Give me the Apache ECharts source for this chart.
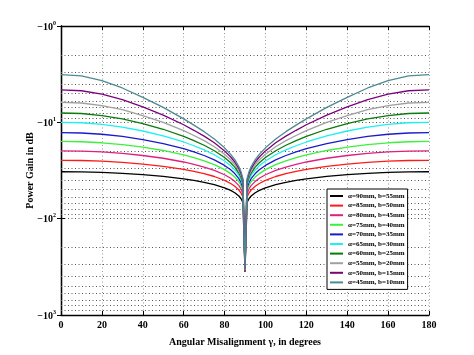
<!DOCTYPE html>
<html>
<head>
<meta charset="utf-8">
<script src="https://cdn.jsdelivr.net/npm/echarts@6/dist/echarts.min.js"></script>
<style>
html,body{margin:0;padding:0;background:#fff;}
#c{width:474px;height:355px;}
</style>
</head>
<body>
<div id="c"></div>
<script>
// Angular misalignment (degrees)
const gamma = [0,10,20,30,40,50,60,65,70,75,80,83,85,87,88,89,90,91,92,93,95,97,100,105,110,115,120,130,140,150,160,170,180];

// Power gain in dB
const gainA90B55 = [-32.6,-32.7,-33.1,-33.8,-34.9,-36.4,-38.6,-40.1,-41.9,-44.3,-47.8,-50.9,-53.8,-58.2,-61.7,-67.8,-356.9,-67.8,-61.7,-58.2,-53.8,-50.9,-47.8,-44.3,-41.9,-40.1,-38.6,-36.4,-34.9,-33.8,-33.1,-32.7,-32.6];
const gainA85B50 = [-24.8,-24.9,-25.3,-26.0,-27.1,-28.6,-30.8,-32.3,-34.1,-36.5,-40.0,-43.1,-46.0,-50.4,-53.9,-60.0,-349.1,-60.0,-53.9,-50.4,-46.0,-43.1,-40.0,-36.5,-34.1,-32.3,-30.8,-28.6,-27.1,-26.0,-25.3,-24.9,-24.8];
const gainA80B45 = [-19.8,-19.9,-20.3,-21.0,-22.1,-23.6,-25.8,-27.3,-29.1,-31.5,-35.0,-38.1,-41.0,-45.4,-48.9,-55.0,-344.1,-55.0,-48.9,-45.4,-41.0,-38.1,-35.0,-31.5,-29.1,-27.3,-25.8,-23.6,-22.1,-21.0,-20.3,-19.9,-19.8];
const gainA75B40 = [-15.8,-15.9,-16.3,-17.0,-18.1,-19.6,-21.8,-23.3,-25.1,-27.5,-31.0,-34.1,-37.0,-41.4,-44.9,-51.0,-340.1,-51.0,-44.9,-41.4,-37.0,-34.1,-31.0,-27.5,-25.1,-23.3,-21.8,-19.6,-18.1,-17.0,-16.3,-15.9,-15.8];
const gainA70B35 = [-12.8,-12.9,-13.3,-14.0,-15.1,-16.6,-18.8,-20.3,-22.1,-24.5,-28.0,-31.1,-34.0,-38.4,-41.9,-48.0,-337.1,-48.0,-41.9,-38.4,-34.0,-31.1,-28.0,-24.5,-22.1,-20.3,-18.8,-16.6,-15.1,-14.0,-13.3,-12.9,-12.8];
const gainA65B30 = [-10.0,-10.1,-10.5,-11.2,-12.3,-13.8,-16.0,-17.5,-19.3,-21.7,-25.2,-28.3,-31.2,-35.6,-39.1,-45.2,-334.3,-45.2,-39.1,-35.6,-31.2,-28.3,-25.2,-21.7,-19.3,-17.5,-16.0,-13.8,-12.3,-11.2,-10.5,-10.1,-10.0];
const gainA60B25 = [-8.0,-8.1,-8.5,-9.2,-10.3,-11.8,-14.0,-15.5,-17.3,-19.7,-23.2,-26.3,-29.2,-33.6,-37.1,-43.2,-332.3,-43.2,-37.1,-33.6,-29.2,-26.3,-23.2,-19.7,-17.3,-15.5,-14.0,-11.8,-10.3,-9.2,-8.5,-8.1,-8.0];
const gainA55B20 = [-6.2,-6.3,-6.7,-7.4,-8.5,-10.0,-12.2,-13.7,-15.5,-17.9,-21.4,-24.5,-27.4,-31.8,-35.3,-41.4,-330.5,-41.4,-35.3,-31.8,-27.4,-24.5,-21.4,-17.9,-15.5,-13.7,-12.2,-10.0,-8.5,-7.4,-6.7,-6.3,-6.2];
const gainA50B15 = [-4.6,-4.7,-5.1,-5.8,-6.9,-8.4,-10.6,-12.1,-13.9,-16.3,-19.8,-22.9,-25.8,-30.2,-33.7,-39.8,-328.9,-39.8,-33.7,-30.2,-25.8,-22.9,-19.8,-16.3,-13.9,-12.1,-10.6,-8.4,-6.9,-5.8,-5.1,-4.7,-4.6];
const gainA45B10 = [-3.2,-3.3,-3.7,-4.4,-5.5,-7.0,-9.2,-10.7,-12.5,-14.9,-18.4,-21.5,-24.4,-28.8,-32.3,-38.4,-327.5,-38.4,-32.3,-28.8,-24.4,-21.5,-18.4,-14.9,-12.5,-10.7,-9.2,-7.0,-5.5,-4.4,-3.7,-3.3,-3.2];

const seriesNames = ['α=90mm, b=55mm','α=85mm, b=50mm','α=80mm, b=45mm','α=75mm, b=40mm','α=70mm, b=35mm','α=65mm, b=30mm','α=60mm, b=25mm','α=55mm, b=20mm','α=50mm, b=15mm','α=45mm, b=10mm'];
const seriesValues = [gainA90B55,gainA85B50,gainA80B45,gainA75B40,gainA70B35,gainA65B30,gainA60B25,gainA55B20,gainA50B15,gainA45B10];
const seriesColors = ['#000000','#ff1a1a','#e0207e','#3cf03c','#1a1acc','#1ef0f0','#0a7a0a','#a0a0a0','#7d007d','#4e8a90'];

// y-axis decades (magnitude of dB) and minor grid positions
const yDecadeExponents = [0,1,2,3];
const minorGrid = [2,3,4,5,6,7,8,9,20,30,40,50,60,70,80,90,200,300,400,500,600,700,800,900];

const FONT = 'Liberation Serif';
const chart = echarts.init(document.getElementById('c'));

const series = seriesValues.map((vals, k) => ({
  name: seriesNames[k],
  type: 'line',
  data: gamma.map((g, i) => [g, Math.abs(vals[i])]),
  showSymbol: false,
  symbol: 'none',
  lineStyle: { width: 1.3, color: seriesColors[k] },
  itemStyle: { color: seriesColors[k] },
  z: 3 + k,
  animation: false
}));
series[0].markLine = {
  silent: true,
  symbol: 'none',
  label: { show: false },
  lineStyle: { color: '#555', type: [1, 2.5], width: 1 },
  data: minorGrid.map(v => ({ yAxis: v })),
  z: 1
};

const axisLineStyle = { color: '#000', width: 1.3 };

chart.setOption({
  animation: false,
  backgroundColor: '#fff',
  grid: { left: 61, top: 26, right: 45, bottom: 40, containLabel: false },
  legend: {
    data: seriesNames,
    orient: 'vertical',
    left: 327, top: 189,
    padding: [3, 3, 3, 3],
    backgroundColor: '#fff',
    borderColor: '#000',
    borderWidth: 1,
    icon: 'rect',
    itemWidth: 13,
    itemHeight: 2,
    itemGap: 1.6,
    textStyle: { fontFamily: FONT, fontWeight: 'bold', fontSize: 7, lineHeight: 8, color: '#000' }
  },
  xAxis: [{
    type: 'value', min: 0, max: 180, interval: 20,
    name: 'Angular Misalignment γ, in degrees',
    nameLocation: 'middle', nameGap: 22,
    nameTextStyle: { fontFamily: FONT, fontWeight: 'bold', fontSize: 10, color: '#000' },
    axisLine: { lineStyle: axisLineStyle },
    axisTick: { inside: true, length: 4, lineStyle: { color: '#000' } },
    axisLabel: { fontFamily: FONT, fontWeight: 'bold', fontSize: 10, color: '#000', margin: 5 },
    splitLine: { show: true, lineStyle: { color: '#999', type: [1, 2.5], width: 1 } }
  }, {
    type: 'value', min: 0, max: 180, interval: 20, position: 'top',
    axisLine: { show: true, lineStyle: axisLineStyle },
    axisTick: { inside: true, length: 4, lineStyle: { color: '#000' } },
    axisLabel: { show: false },
    splitLine: { show: false }
  }],
  yAxis: [{
    type: 'log', logBase: 10, min: 1, max: 1000, inverse: true,
    name: 'Power Gain in dB',
    nameLocation: 'middle', nameGap: 26, nameMoveOverlap: false,
    nameTextStyle: { fontFamily: FONT, fontWeight: 'bold', fontSize: 10, color: '#000' },
    axisLine: { show: true, lineStyle: axisLineStyle },
    axisTick: { inside: true, length: 4, lineStyle: { color: '#000' } },
    axisLabel: {
      margin: 5,
      formatter: v => {
        const e = Math.round(Math.log10(v));
        return yDecadeExponents.includes(e) ? '{b|−10}{s|' + e + '}' : '';
      },
      rich: {
        b: { fontFamily: FONT, fontWeight: 'bold', fontSize: 10, color: '#000', verticalAlign: 'bottom', lineHeight: 12 },
        s: { fontFamily: FONT, fontWeight: 'bold', fontSize: 6, color: '#000', verticalAlign: 'top', lineHeight: 12 }
      }
    },
    splitLine: { show: true, lineStyle: { color: '#555', type: [1, 2.5], width: 1 } }
  }, {
    type: 'log', logBase: 10, min: 1, max: 1000, inverse: true, position: 'right',
    axisLine: { show: true, lineStyle: axisLineStyle },
    axisTick: { inside: true, length: 4, lineStyle: { color: '#000' } },
    axisLabel: { show: false },
    splitLine: { show: false }
  }],
  series: series
});
</script>
</body>
</html>
